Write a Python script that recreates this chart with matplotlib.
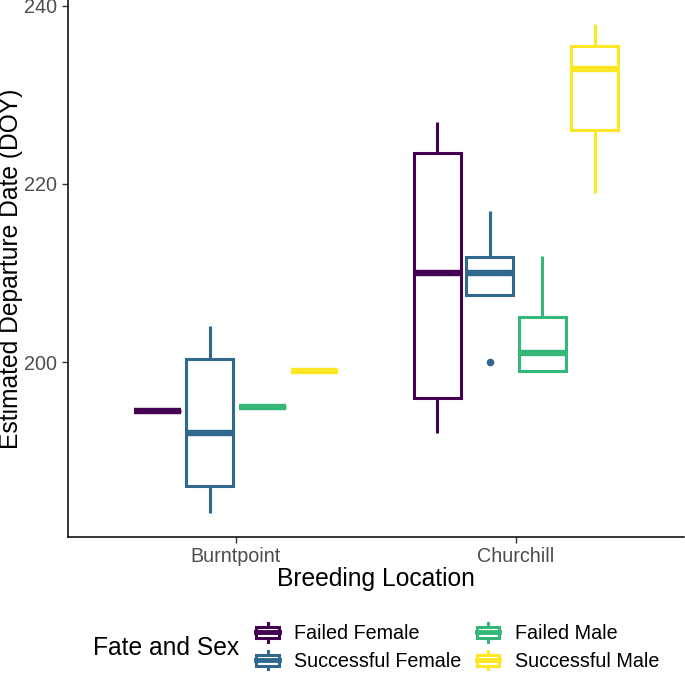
import matplotlib
matplotlib.use("Agg")
import matplotlib.pyplot as plt
from matplotlib.patches import Rectangle, Patch
from matplotlib.lines import Line2D
from matplotlib.legend_handler import HandlerBase

plt.rcParams['font.family'] = ['Liberation Sans', 'DejaVu Sans']

locations = ['Burntpoint', 'Churchill']
groups = ['Failed Female', 'Successful Female', 'Failed Male', 'Successful Male']
colors = ['#440154', '#31688E', '#35B779', '#FDE725']

# per group: [Burntpoint, Churchill]
whislo = {'Failed Female': [194.4, 192.0], 'Successful Female': [183.1, 207.5],
          'Failed Male': [195.0, 199.0], 'Successful Male': [199.0, 219.0]}
q1 = {'Failed Female': [194.5, 196.0], 'Successful Female': [186.1, 207.5],
      'Failed Male': [195.0, 199.0], 'Successful Male': [199.0, 226.0]}
med = {'Failed Female': [194.5, 210.0], 'Successful Female': [192.0, 210.0],
       'Failed Male': [195.0, 201.0], 'Successful Male': [199.0, 232.9]}
q3 = {'Failed Female': [194.5, 223.5], 'Successful Female': [200.3, 211.8],
      'Failed Male': [195.0, 205.0], 'Successful Male': [199.0, 235.5]}
whishi = {'Failed Female': [194.6, 226.9], 'Successful Female': [204.0, 216.9],
          'Failed Male': [195.0, 211.9], 'Successful Male': [199.0, 237.9]}
fliers = {'Failed Female': [[], []], 'Successful Female': [[], [200.0]],
          'Failed Male': [[], []], 'Successful Male': [[], []]}

fig = plt.figure(figsize=(6.85, 6.73), dpi=100)
ax = fig.add_axes([68/685, 136/673, 616/685, 537/673])

dodge = 0.75 / len(groups)
for k, g in enumerate(groups):
    stats = []
    for i in range(len(locations)):
        stats.append(dict(whislo=whislo[g][i], q1=q1[g][i], med=med[g][i],
                          q3=q3[g][i], whishi=whishi[g][i], fliers=fliers[g][i]))
    pos = [i + 1 + (k - 1.5) * dodge for i in range(len(locations))]
    c = colors[k]
    ax.bxp(stats, positions=pos, widths=dodge * 0.9, showcaps=False,
           patch_artist=True, manage_ticks=False,
           boxprops=dict(facecolor='white', edgecolor=c, linewidth=2.2),
           whiskerprops=dict(color=c, linewidth=2.2, solid_capstyle='butt'),
           medianprops=dict(color=c, linewidth=4.6, solid_capstyle='butt'),
           flierprops=dict(marker='o', markerfacecolor=c, markeredgecolor=c,
                           markersize=4.5))

lo = min(min(v) for v in whislo.values())
hi = max(max(v) for v in whishi.values())
pad = (hi - lo) * 0.05
ax.set_ylim(lo - pad, hi + pad)
ax.set_xlim(0.4, 2.6)
ax.set_xticks([1, 2])
ax.set_xticklabels(locations)
ax.set_yticks([200, 220, 240])
ax.tick_params(labelsize=14.2, labelcolor='#4D4D4D', color='#333333', length=4.4, width=1)
ax.tick_params(axis='x', pad=2.5)
for s in ['top', 'right']:
    ax.spines[s].set_visible(False)
for s in ['left', 'bottom']:
    ax.spines[s].set_linewidth(1.1)
ax.set_xlabel('Breeding Location', fontsize=17.7, labelpad=1)
ax.set_ylabel('Estimated Departure Date (DOY)', fontsize=17.7, va='center')
ax.yaxis.set_label_coords(-57/616, 0.5)


class BoxKey(HandlerBase):
    def create_artists(self, legend, orig_handle, xdescent, ydescent,
                       width, height, fontsize, trans):
        c = orig_handle.get_edgecolor()
        x0, y0 = -xdescent, -ydescent
        cx = x0 + width / 2
        rect = Rectangle((x0 + 0.05 * width, y0 + 0.2 * height), 0.9 * width,
                         0.6 * height, facecolor='white', edgecolor=c,
                         linewidth=2.2, transform=trans)
        m = Line2D([x0 + 0.05 * width, x0 + 0.95 * width], [y0 + height / 2] * 2,
                   color=c, linewidth=3.5, transform=trans)
        w1 = Line2D([cx, cx], [y0, y0 + 0.2 * height], color=c, linewidth=2.2, transform=trans)
        w2 = Line2D([cx, cx], [y0 + 0.8 * height, y0 + height], color=c, linewidth=2.2, transform=trans)
        return [w1, w2, rect, m]


handles = [Patch(facecolor='white', edgecolor=c, label=g) for g, c in zip(groups, colors)]
fig.legend(handles=handles, loc='center left', bbox_to_anchor=(255/685, 1 - 647/673),
           ncol=2, frameon=False, fontsize=14.2, borderpad=0, borderaxespad=0,
           handlelength=1.27, handleheight=1.07, handletextpad=0.7,
           columnspacing=0.74, labelspacing=0.4,
           handler_map={Patch: BoxKey()})
fig.text(93/685, 1 - 648/673, 'Fate and Sex', fontsize=17.7, va='center', ha='left')

fig.savefig('out.png', dpi=100)
